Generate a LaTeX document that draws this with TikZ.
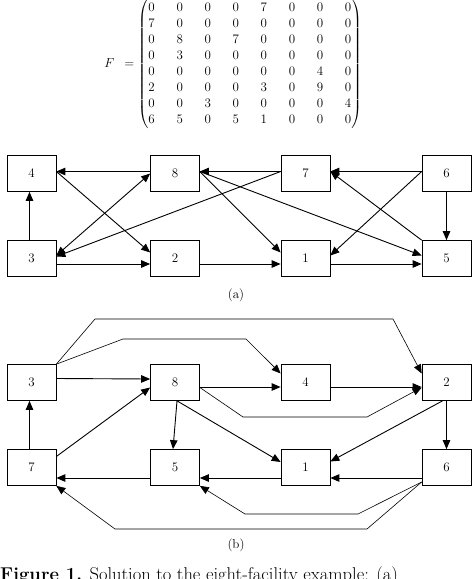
\RequirePackage{fix-cm}
\documentclass[tikz,border=0pt]{standalone}
\usepackage{amsmath}
\usetikzlibrary{arrows.meta}
\tikzset{
  facility/.style={draw, line width=0.7pt, minimum width=49pt, minimum height=36pt, inner sep=0pt},
  flow/.style={->, line width=0.9pt},
  route/.style={->, line width=0.6pt}
}
\begin{document}
\begin{tikzpicture}[x=1pt, y=-1pt, >={Triangle[length=9pt,width=7.5pt]},
    font=\fontsize{13}{16}\selectfont]
  \useasboundingbox (0,0) rectangle (474,579);

  % flow matrix
  \node (mat) [anchor=east, inner sep=0pt] at (362,64)
    {\setlength{\arraycolsep}{10.85pt}$F \mkern9mu= \begin{pmatrix}
      0&0&0&0&7&0&0&0\\
      7&0&0&0&0&0&0&0\\
      0&8&0&7&0&0&0&0\\
      0&3&0&0&0&0&0&0\\
      0&0&0&0&0&0&4&0\\
      2&0&0&0&3&0&9&0\\
      0&0&3&0&0&0&0&4\\
      6&5&0&5&1&0&0&0
    \end{pmatrix}$};

  % (a)
  \node (a4) [facility] at (31.5,173.5) {4};
  \node (a8) [facility] at (175,173.5)  {8};
  \node (a7) [facility] at (305.5,173.5) {7};
  \node (a6) [facility] at (446.5,173.5) {6};
  \node (a3) [facility] at (31.5,258.5) {3};
  \node (a2) [facility] at (175,258.5)  {2};
  \node (a1) [facility] at (305.5,258.5) {1};
  \node (a5) [facility] at (446.5,258.5) {5};

  \draw [flow] ([yshift=2pt]a8.west) -- ([yshift=2pt]a4.east);
  \draw [flow] ([yshift=2pt]a7.west) -- ([yshift=2pt]a8.east);
  \draw [flow] ([yshift=2pt]a6.west) -- ([yshift=2pt]a7.east);
  \draw [flow] ([xshift=-2pt]a3.north) -- ([xshift=-2pt]a4.south);
  \draw [flow] ([yshift=2pt]a4.east) -- ([yshift=6pt]a2.west);
  \draw [flow, <->] ([yshift=3pt]a3.east) -- (a8.west);
  \draw [flow] ([yshift=2pt]a7.west) -- ([yshift=2pt]a3.east);
  \draw [flow] ([yshift=2pt]a8.east) -- ([yshift=6pt]a1.west);
  \draw [flow] ([yshift=2pt]a8.east) -- ([yshift=3pt]a5.west);
  \draw [flow] (a5.north west) -- ([yshift=2pt]a7.east);
  \draw [flow] ([yshift=2pt]a6.west) -- ([yshift=3pt]a1.east);
  \draw [flow] (a6.south) -- (a5.north);
  \draw [flow] ([yshift=-5.5pt]a3.east) -- ([yshift=-5.5pt]a2.west);
  \draw [flow] ([yshift=-5.5pt]a2.east) -- ([yshift=-5.5pt]a1.west);
  \draw [flow] ([yshift=-5.5pt]a1.east) -- ([yshift=-5.5pt]a5.west);

  \node (capa) at (236,295) {(a)};

  % (b)
  \node (b3) [facility] at (31.5,382.5) {3};
  \node (b8) [facility] at (175,382.5)  {8};
  \node (b4) [facility] at (305.5,382.5) {4};
  \node (b2) [facility] at (446.5,382.5) {2};
  \node (b7) [facility] at (31.5,467.5) {7};
  \node (b5) [facility] at (175,467.5)  {5};
  \node (b1) [facility] at (305.5,467.5) {1};
  \node (b6) [facility] at (446.5,467.5) {6};

  \draw [flow] ([yshift=4pt]b3.east) -- ([yshift=3.5pt]b8.west);
  \draw [flow] ([yshift=-4.5pt]b8.east) -- ([yshift=-4.5pt]b4.west);
  \draw [flow] ([yshift=-4.5pt]b4.east) -- ([yshift=-4.5pt]b2.west);
  \draw [route] (b3.north east) -- (123,339) -- (246,339) -- ([yshift=9pt]b4.west);
  \draw [route] (b3.north east) -- (95,319) -- (393,319) -- ([yshift=9pt]b2.west);
  \draw [route] ([yshift=-5pt]b8.east) -- (243,417) -- (367,417) -- ([yshift=-5pt]b2.west);
  \draw [flow] ([xshift=2pt]b8.south) -- ([xshift=-2pt]b5.north);
  \draw [flow] ([xshift=2pt]b8.south) -- ([yshift=5.5pt]b1.west);
  \draw [flow] ([xshift=-2pt]b7.north) -- ([xshift=-2pt]b3.south);
  \draw [flow] ([yshift=11pt]b7.east) -- ([yshift=-5pt]b8.west);
  \draw [flow] (b2.south) -- (b6.north);
  \draw [flow] ([xshift=-4pt]b2.south) -- ([yshift=6pt]b1.east);
  \draw [flow] ([yshift=-10.5pt]b6.west) -- ([yshift=-10.5pt]b1.east);
  \draw [flow] ([yshift=-10.5pt]b1.west) -- ([yshift=-10.5pt]b5.east);
  \draw [flow] ([yshift=-10.5pt]b5.west) -- ([yshift=-10.5pt]b7.east);
  \draw [route] ([yshift=-14.5pt]b6.west) -- (358,514) -- (245,514) -- (b5.south east);
  \draw [route] ([yshift=-14.5pt]b6.west) -- (367,529) -- (115,529) -- (b7.south east);

  \node (capb) at (236,545) {(b)};

  \node (caption) [anchor=base west, inner sep=0pt, font=\fontsize{18.5}{22}\selectfont]
    at (0,580.5) {\textbf{Figure 1.} Solution to the eight-facility example: (a)};
\end{tikzpicture}
\end{document}
